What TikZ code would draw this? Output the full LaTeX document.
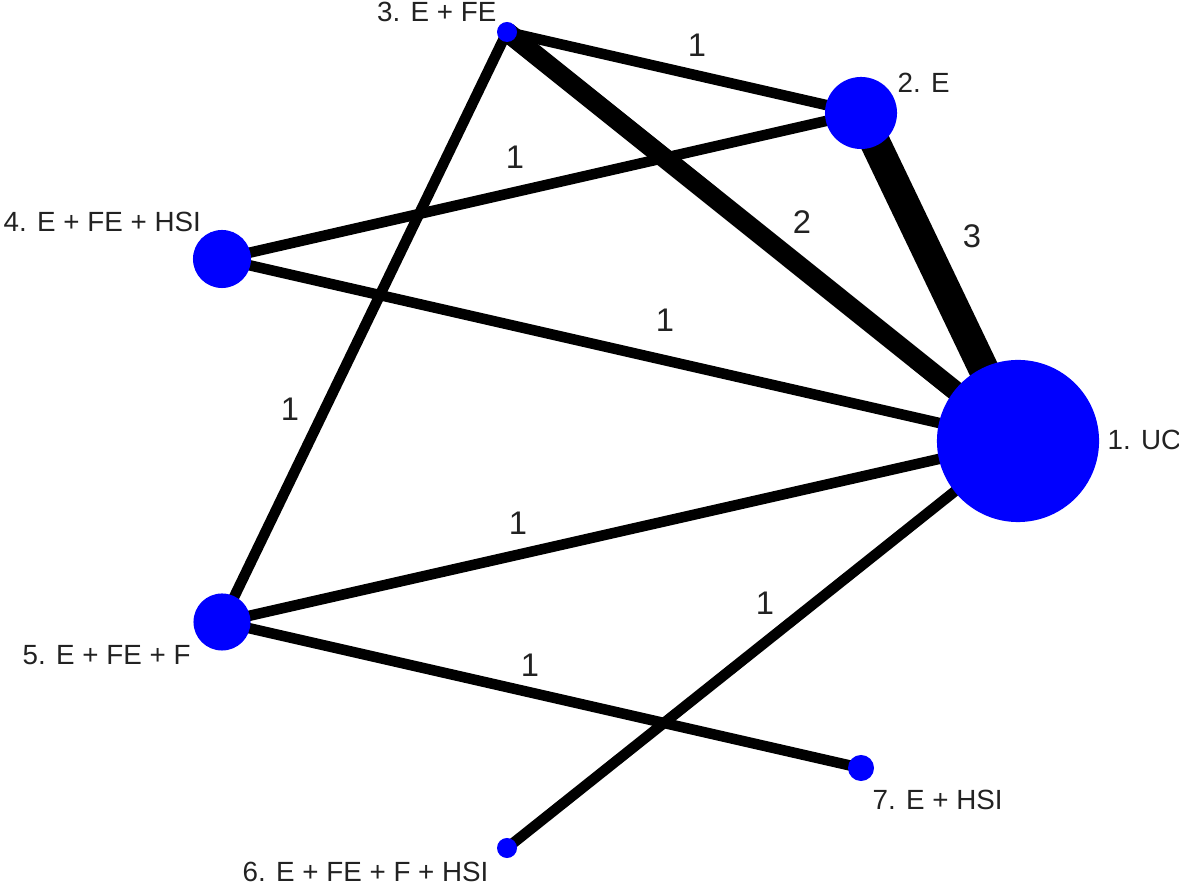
\documentclass[tikz,border=0pt]{standalone}
\usepackage{fontspec}
\setmainfont{Liberation Sans}
\usetikzlibrary{backgrounds}
\definecolor{nodeblue}{RGB}{0,0,255}
\definecolor{txt}{RGB}{34,34,34}
\begin{document}
\begin{tikzpicture}[x=0.01cm,y=-0.01cm,
  trt/.style={circle,fill=nodeblue,draw=none,inner sep=0pt,minimum size=#1*0.02cm},
  nlab/.style={inner sep=0pt,text=txt,font=\fontsize{7.9pt}{9pt}\selectfont},
  elab/.style={inner sep=0pt,text=txt,font=\fontsize{9.3pt}{11pt}\selectfont},
  e1/.style={line width=3pt,black},
  e2/.style={line width=5.6pt,black},
  e3/.style={line width=8.6pt,black}]
\useasboundingbox (0,0) rectangle (1179,886);
% treatment nodes
\node[trt=81] (n1) at (1018,441) {};
\node[trt=36] (n2) at (861,113) {};
\node[trt=10] (n3) at (507,32) {};
\node[trt=29] (n4) at (222,259) {};
\node[trt=28.5] (n5) at (222,622) {};
\node[trt=10] (n6) at (507,848) {};
\node[trt=13] (n7) at (861,768) {};
% connectors
\begin{pgfonlayer}{background}
\draw[e1] (n3.center) -- (n2.center);
\draw[e2] (n3.center) -- (n1.center);
\draw[e3] (n2.center) -- (n1.center);
\draw[e1] (n2.center) -- (n4.center);
\draw[e1] (n4.center) -- (n1.center);
\draw[e1] (n3.center) -- (n5.center);
\draw[e1] (n5.center) -- (n1.center);
\draw[e1] (n5.center) -- (n7.center);
\draw[e1] (n6.center) -- (n1.center);
\end{pgfonlayer}
% treatment labels
\node[nlab,anchor=base west] (l1) at (1107,450) {1. UC};
\node[nlab,anchor=base west] (l2) at (897,93) {2. E};
\node[nlab,anchor=base east] (l3) at (497,22) {3. E + FE};
\node[nlab,anchor=base west] (l4) at (3,232) {4. E + FE + HSI};
\node[nlab,anchor=base west] (l5) at (22,665) {5. E + FE + F};
\node[nlab,anchor=base west] (l6) at (242,882) {6. E + FE + F + HSI};
\node[nlab,anchor=base west] (l7) at (872,810) {7. E + HSI};
% edge labels
\node[elab] (w32) at (697,45) {1};
\node[elab] (w31) at (802,222) {2};
\node[elab] (w21) at (972,236) {3};
\node[elab] (w24) at (515,157) {1};
\node[elab] (w41) at (665,320) {1};
\node[elab] (w35) at (290,409) {1};
\node[elab] (w51) at (518,523) {1};
\node[elab] (w57) at (530,665) {1};
\node[elab] (w61) at (765,603) {1};
\end{tikzpicture}
\end{document}
